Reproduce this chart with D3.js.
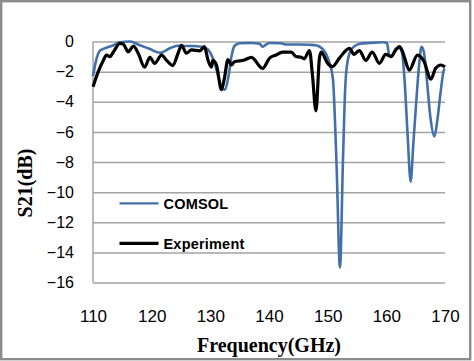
<!DOCTYPE html>
<html>
<head>
  <meta charset="UTF-8">
  <title>S21 COMSOL vs Experiment</title>
  <script src="https://d3js.org/d3.v7.min.js"></script>
  <style>
    body { margin: 0; background: #fff; }
    svg { display: block; }
  </style>
</head>
<body>
<div id="chart"></div>
<script>
// values (frequency in GHz, S21 in dB)
const comsolFreq = [110, 110.5, 111.2, 112.4, 113.5, 114.6, 116.3, 118, 119.7, 121.4, 123.1, 124.4, 125.5, 127, 128.5, 129.5, 130.3, 131, 131.8, 132.5, 133.1, 133.6, 134.1, 135, 137, 138.4, 138.9, 139.5, 140.1, 142, 143, 145, 147, 148, 149, 149.7, 150.3, 150.9, 151.5, 152.1, 152.6, 153, 153.4, 154.1, 155.5, 157, 159.5, 160.1, 160.5, 160.9, 161.3, 161.7, 162.3, 162.7, 163.1, 163.6, 164.15, 164.6, 165.1, 165.6, 166, 166.4, 166.9, 167.5, 168.2, 168.7, 169.3, 169.8, 170];
const comsolDb = [-2.3, -1.3, -0.6, -0.4, -0.25, -0.05, 0, -0.25, -0.5, -0.75, -0.45, -0.28, -0.3, -0.3, -0.35, -0.5, -1.0, -1.8, -2.9, -3.2, -2.3, -1.0, -0.3, -0.12, -0.1, -0.15, -0.35, -0.2, -0.1, -0.12, -0.2, -0.2, -0.22, -0.25, -0.45, -0.8, -1.4, -2.5, -8, -15.0, -8, -3, -1.3, -0.5, -0.15, -0.1, -0.05, -0.1, -0.9, -1.0, -0.7, -0.45, -0.45, -0.8, -2.5, -6, -9.3, -6.8, -4, -1.5, -0.35, -0.7, -2.5, -5, -6.3, -5.2, -3.2, -1.9, -1.8];

const expFreq = [110, 110.9, 111.8, 112.3, 112.9, 113.5, 114.6, 115.2, 116.0, 116.9, 117.7, 118.8, 119.7, 120.5, 121.7, 122.5, 123.6, 124.5, 125.1, 125.9, 126.8, 128.2, 129.0, 129.6, 130.2, 130.4, 131.0, 131.9, 132.4, 133.0, 133.6, 134.1, 135.8, 137.0, 138.9, 140.1, 141.2, 142.3, 143.8, 144.6, 145.5, 146.0, 146.9, 147.4, 148.0, 148.6, 148.9, 150.0, 150.8, 152.0, 153.7, 154.5, 155.4, 156.5, 157.6, 158.8, 159.9, 160.8, 161.6, 162.2, 162.7, 163.2, 163.9, 165.3, 166.4, 167.6, 168.4, 169.3, 170];
const expDb = [-3.0, -2.0, -1.23, -0.9, -1.0, -0.68, -0.12, -0.19, -0.68, -0.3, -0.78, -1.7, -1.05, -1.45, -0.9, -1.23, -1.6, -0.78, -0.25, -0.78, -0.56, -0.62, -0.34, -1.23, -1.7, -1.25, -1.5, -3.2, -2.45, -1.2, -1.56, -1.34, -1.23, -1.05, -1.78, -1.1, -0.9, -0.7, -0.7, -1.0, -1.05, -1.15, -0.6, -2.2, -4.6, -1.1, -0.7, -1.45, -1.67, -1.1, -0.45, -0.85, -0.6, -1.25, -0.7, -1.45, -0.85, -1.0, -0.56, -0.34, -0.6, -1.2, -1.9, -0.9, -1.3, -2.5, -1.78, -1.56, -1.7];

const xTicks = [110, 120, 130, 140, 150, 160, 170];
const yTicks = [0, -2, -4, -6, -8, -10, -12, -14, -16];
const seriesNames = ["COMSOL", "Experiment"];

const W = 474, H = 361;
const margin = { top: 41.5, right: 29, bottom: 78.5, left: 93 };
const width = W - margin.left - margin.right;
const height = H - margin.top - margin.bottom;

const svg = d3.select("#chart").append("svg")
  .attr("width", W)
  .attr("height", H);

// outer frame
svg.append("rect")
  .attr("x", 1.2).attr("y", 1.2)
  .attr("width", 469).attr("height", 358)
  .attr("fill", "#fff")
  .attr("stroke", "#8c8c8c")
  .attr("stroke-width", 2.4);

const g = svg.append("g")
  .attr("transform", "translate(" + margin.left + "," + margin.top + ")");

const x = d3.scaleLinear().domain([110, 170]).range([0, width]);
const y = d3.scaleLinear().domain([-16, 0]).range([height, 0]);

// y axis with gridlines
const yAxis = g.append("g")
  .call(d3.axisLeft(y).tickValues(yTicks).tickSizeInner(-width).tickSizeOuter(0).tickPadding(19).tickFormat(d3.format("d")));
yAxis.select(".domain").remove();
yAxis.selectAll("line").attr("stroke", "#a3a3a3").attr("stroke-width", 1.5);
yAxis.selectAll("text")
  .style("font-family", "Liberation Sans, Arial, sans-serif")
  .style("font-size", "16px")
  .attr("fill", "#000");

// left axis line
g.append("line")
  .attr("x1", 0).attr("x2", 0)
  .attr("y1", 0).attr("y2", height)
  .attr("stroke", "#a3a3a3").attr("stroke-width", 1.5);

// x axis labels
const xAxis = g.append("g")
  .attr("transform", "translate(0," + height + ")")
  .call(d3.axisBottom(x).tickValues(xTicks).tickSize(0).tickPadding(27.5).tickFormat(d3.format("d")));
xAxis.select(".domain").remove();
xAxis.selectAll("text")
  .style("font-family", "Liberation Sans, Arial, sans-serif")
  .style("font-size", "17px")
  .attr("fill", "#000");

const line = (xs, ys) => d3.line()
  .x((d, i) => x(xs[i]))
  .y((d, i) => y(ys[i]))
  .curve(d3.curveMonotoneX)(xs);

g.append("path")
  .attr("d", line(comsolFreq, comsolDb))
  .attr("fill", "none")
  .attr("stroke", "#4470aa")
  .attr("stroke-width", 2.6)
  .attr("stroke-linejoin", "round");

g.append("path")
  .attr("d", line(expFreq, expDb))
  .attr("fill", "none")
  .attr("stroke", "#000")
  .attr("stroke-width", 3.2)
  .attr("stroke-linejoin", "round");

// legend
const legend = [
  { name: seriesNames[0], color: "#4470aa", w: 2.2, y: 203.3 },
  { name: seriesNames[1], color: "#000", w: 3.2, y: 243.3 }
];
legend.forEach(function(d) {
  svg.append("line")
    .attr("x1", 119.5).attr("x2", 158.5)
    .attr("y1", d.y).attr("y2", d.y)
    .attr("stroke", d.color).attr("stroke-width", d.w);
  svg.append("text")
    .attr("x", 163.5).attr("y", d.y)
    .attr("dy", "0.36em")
    .style("font-family", "Liberation Sans, Arial, sans-serif")
    .style("font-size", "14.5px")
    .style("font-weight", "bold")
    .style("letter-spacing", "0.2px")
    .text(d.name);
});

// axis titles
svg.append("text")
  .attr("x", 269).attr("y", 352)
  .attr("text-anchor", "middle")
  .style("font-family", "Liberation Serif, Times New Roman, serif")
  .style("font-size", "20px")
  .style("font-weight", "bold")
  .text("Frequency(GHz)");

svg.append("text")
  .attr("transform", "translate(32,183) rotate(-90)")
  .attr("text-anchor", "middle")
  .style("font-family", "Liberation Serif, Times New Roman, serif")
  .style("font-size", "20px")
  .style("font-weight", "bold")
  .text("S21(dB)");
</script>
</body>
</html>
